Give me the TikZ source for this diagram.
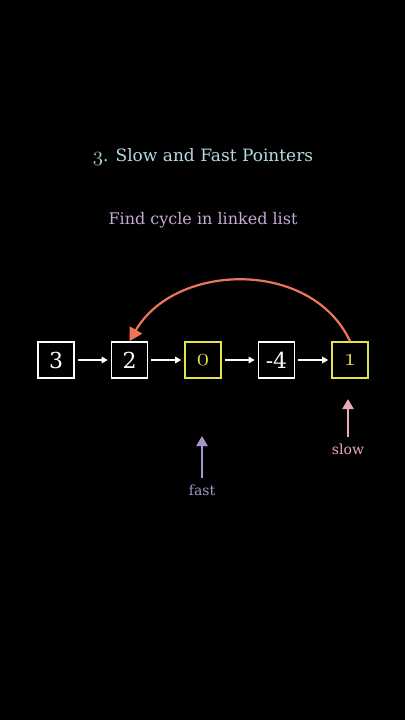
\documentclass[tikz,border=0pt]{standalone}
\usepackage{fontspec}
\setmainfont{DejaVu Serif}
\usepackage{tikz}
\usetikzlibrary{positioning,arrows.meta}
\definecolor{titlecyan}{HTML}{B4DCE0}
\definecolor{sublilac}{HTML}{C4ACD4}
\definecolor{nodeyellow}{HTML}{E6E24A}
\definecolor{backred}{HTML}{EE7558}
\definecolor{slowpink}{HTML}{EBA8B6}
\definecolor{fastlilac}{HTML}{A995C9}
\newcommand\osf[1]{{\usefont{OML}{cmm}{m}{it}#1}}

\begin{document}
\begin{tikzpicture}[x=1pt,y=-1pt,
  listnode/.style={draw=white,line width=1.6pt,minimum size=36pt,inner sep=0pt,text=white,font=\fontsize{22}{22}\selectfont},
  hitnode/.style={listnode,draw=nodeyellow,text=nodeyellow},
  nextarrow/.style={white,line width=1.5pt,-{Triangle[length=6pt,width=6.5pt]},shorten <=3pt,shorten >=3pt},
  ptrarrow/.style={line width=2.8pt,-{Triangle[length=10pt,width=11pt]}},
  ptrlabel/.style={font=\fontsize{14}{14}\selectfont}]

\fill[black] (0,0) rectangle (405,720);
\useasboundingbox (0,0) rectangle (405,720);

\node[text=titlecyan,font=\fontsize{17}{17}\selectfont] (title) at (203,157) {{\fontsize{22}{22}\selectfont\osf{3}}. Slow and Fast Pointers};
\node[text=sublilac,font=\fontsize{16}{16}\selectfont] (subtitle) at (203,220) {Find cycle in linked list};

\node[listnode] (n3) at (56,360) {3};
\node[listnode,right=35.9pt of n3] (n2) {2};
\node[hitnode,right=35.9pt of n2] (n0) {\fontsize{27}{27}\selectfont\osf{0}};
\node[listnode,right=35.9pt of n0] (nm4) {-4};
\node[hitnode,right=35.9pt of nm4] (n1) {\fontsize{27}{27}\selectfont\osf{1}};

\draw[nextarrow] (n3) -- (n2);
\draw[nextarrow] (n2) -- (n0);
\draw[nextarrow] (n0) -- (nm4);
\draw[nextarrow] (nm4) -- (n1);

\draw[backred,line width=2.2pt,-{Triangle[length=13pt,width=14pt]}] (n1.north) to[out=115,in=60,looseness=1.06] (n2.north);

\node[ptrlabel,text=slowpink] (slow) at (348,449) {slow};
\coordinate[above=3pt of slow] (slowtail);
\draw[ptrarrow,slowpink] (slowtail) -- ++(0,-38);

\node[ptrlabel,text=fastlilac] (fast) at (202,490) {fast};
\coordinate[above=3pt of fast] (fasttail);
\draw[ptrarrow,fastlilac] (fasttail) -- ++(0,-42);

\end{tikzpicture}
\end{document}
